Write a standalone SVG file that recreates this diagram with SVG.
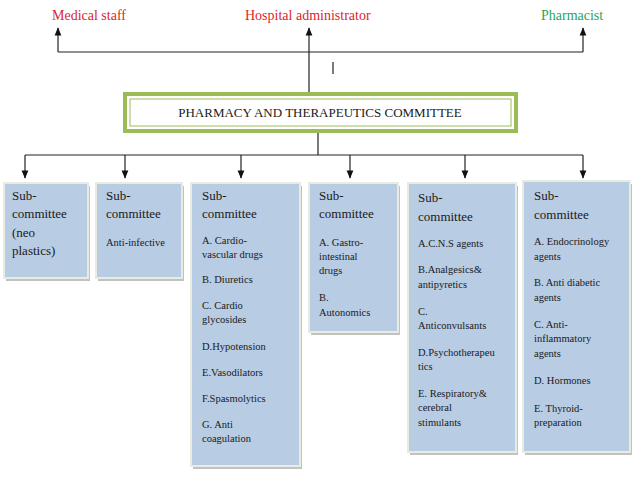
<svg xmlns="http://www.w3.org/2000/svg" width="638" height="479" viewBox="0 0 638 479">
<defs>
<style>
text{font-family:"Liberation Serif",serif;fill:#1a1a1a}
.h{font-size:13px}
.i{font-size:10.5px}
.box{fill:#b8cce4;stroke:#e8ece0;stroke-width:2}
.sh{fill:#9a9a9a;opacity:0.6}
.ln{stroke:#222;stroke-width:1.2;fill:none}
</style>
<marker id="a" viewBox="0 0 10 10" refX="9" refY="5" markerWidth="7" markerHeight="7" orient="auto"><path d="M0,1 L10,5 L0,9z" fill="#111"/></marker>
</defs>
<rect width="638" height="479" fill="#fff"/>
<g id="labels">
<text x="52" y="20" font-size="14" style="fill:#d9262b">Medical staff</text>
<text x="245" y="20" font-size="14" style="fill:#d9262b">Hospital administrator</text>
<text x="541" y="20" font-size="14" style="fill:#2aa35a">Pharmacist</text>
</g>
<g id="connectors">
<path class="ln" d="M58,52 H583" />
<path class="ln" d="M58,52 V28" marker-end="url(#a)"/>
<path class="ln" d="M583,52 V28" marker-end="url(#a)"/>
<path class="ln" d="M309,112 V28" marker-end="url(#a)"/>
<path class="ln" d="M333,62 V74"/>
<path class="ln" d="M318,132 V155 M25,155 H583"/>
<path class="ln" d="M25,155 V178" marker-end="url(#a)"/>
<path class="ln" d="M125,155 V178" marker-end="url(#a)"/>
<path class="ln" d="M241,155 V178" marker-end="url(#a)"/>
<path class="ln" d="M350,155 V178" marker-end="url(#a)"/>
<path class="ln" d="M465,155 V178" marker-end="url(#a)"/>
<path class="ln" d="M583,155 V178" marker-end="url(#a)"/>
</g>
<g id="committee">
<rect x="125" y="94" width="391" height="37" fill="#fff" stroke="#9bbb59" stroke-width="4"/>
<rect x="130" y="99" width="381" height="27" fill="none" stroke="#9bbb59" stroke-width="1"/>
<text x="320" y="117" text-anchor="middle" font-size="13">PHARMACY AND THERAPEUTICS COMMITTEE</text>
</g>
<g id="sub1">
<rect class="sh" x="6" y="186" width="84" height="95"/>
<rect class="box" x="4" y="183" width="84" height="95"/>
<text class="h" x="12" y="200">Sub-</text><text class="h" x="12" y="218">committee</text><text class="h" x="12" y="237">(neo</text><text class="h" x="12" y="255">plastics)</text>
</g>
<g id="sub2">
<rect class="sh" x="98" y="186" width="86" height="95"/>
<rect class="box" x="96" y="183" width="86" height="95"/>
<text class="h" x="106" y="200">Sub-</text><text class="h" x="106" y="218">committee</text><text class="i" x="106" y="246">Anti-infective</text>
</g>
<g id="sub3">
<rect class="sh" x="193" y="186" width="109" height="283"/>
<rect class="box" x="191" y="183" width="109" height="283"/>
<text class="h" x="202" y="200">Sub-</text><text class="h" x="202" y="218">committee</text>
<text class="i" x="202" y="244">A. Cardio-</text><text class="i" x="202" y="258">vascular drugs</text>
<text class="i" x="202" y="283">B. Diuretics</text>
<text class="i" x="202" y="309">C. Cardio</text><text class="i" x="202" y="323">glycosides</text>
<text class="i" x="202" y="350">D.Hypotension</text>
<text class="i" x="202" y="376">E.Vasodilators</text>
<text class="i" x="202" y="402">F.Spasmolytics</text>
<text class="i" x="202" y="428">G. Anti</text><text class="i" x="202" y="442">coagulation</text>
</g>
<g id="sub4">
<rect class="sh" x="311" y="186" width="89" height="149"/>
<rect class="box" x="309" y="183" width="89" height="149"/>
<text class="h" x="319" y="200">Sub-</text><text class="h" x="319" y="218">committee</text>
<text class="i" x="319" y="246">A. Gastro-</text><text class="i" x="319" y="260">intestinal</text><text class="i" x="319" y="274">drugs</text>
<text class="i" x="319" y="301">B.</text><text class="i" x="319" y="316">Autonomics</text>
</g>
<g id="sub5">
<rect class="sh" x="410" y="186" width="108" height="269"/>
<rect class="box" x="408" y="183" width="108" height="269"/>
<text class="h" x="418" y="202">Sub-</text><text class="h" x="418" y="221">committee</text>
<text class="i" x="418" y="247">A.C.N.S agents</text>
<text class="i" x="418" y="273">B.Analgesics&amp;</text><text class="i" x="418" y="288">antipyretics</text>
<text class="i" x="418" y="315">C.</text><text class="i" x="418" y="329">Anticonvulsants</text>
<text class="i" x="418" y="356">D.Psychotherapeu</text><text class="i" x="418" y="370">tics</text>
<text class="i" x="418" y="397">E. Respiratory&amp;</text><text class="i" x="418" y="411">cerebral</text><text class="i" x="418" y="426">stimulants</text>
</g>
<g id="sub6">
<rect class="sh" x="525" y="184" width="107" height="271"/>
<rect class="box" x="523" y="181" width="107" height="271"/>
<text class="h" x="534" y="200">Sub-</text><text class="h" x="534" y="219">committee</text>
<text class="i" x="534" y="245">A. Endocrinology</text><text class="i" x="534" y="260">agents</text>
<text class="i" x="534" y="286">B. Anti diabetic</text><text class="i" x="534" y="301">agents</text>
<text class="i" x="534" y="328">C. Anti-</text><text class="i" x="534" y="342">inflammatory</text><text class="i" x="534" y="357">agents</text>
<text class="i" x="534" y="384">D. Hormones</text>
<text class="i" x="534" y="412">E. Thyroid-</text><text class="i" x="534" y="426">preparation</text>
</g>
</svg>
